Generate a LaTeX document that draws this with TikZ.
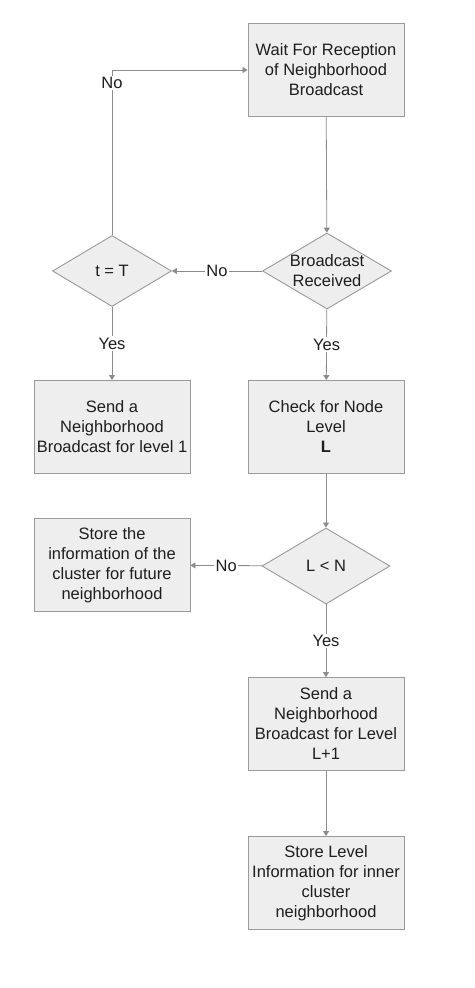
\documentclass[tikz,border=0pt]{standalone}
\usepackage{fontspec}
\setmainfont{Liberation Sans}
\usepackage{tikz}
\usetikzlibrary{arrows.meta,shapes}
\newcommand{\boxw}{156pt}
\newcommand{\boxh}{93pt}
\definecolor{boxfill}{HTML}{EEEEEE}
\definecolor{boxline}{HTML}{9A9A9A}
\definecolor{flowline}{HTML}{8C8C8C}
\definecolor{txt}{HTML}{1E1E1E}

\begin{document}
\begin{tikzpicture}[x=1pt,y=-1pt,
    every node/.style={font=\fontsize{16.5}{20}\selectfont, text=txt},
    stepbox/.style={draw=boxline, fill=boxfill, line width=0.9pt, minimum width=\boxw, minimum height=\boxh, align=center, inner sep=0pt},
    decision/.style={diamond, draw=boxline, fill=boxfill, line width=0.9pt, inner sep=0pt},
    dtext/.style={align=center, inner sep=0pt},
    flow/.style={draw=flowline, line width=0.8pt, -{Triangle[length=5pt,width=6pt]}},
    lbl/.style={fill=white, inner sep=1.5pt}]
            \useasboundingbox[fill=white] (0,0) rectangle (474,988);
            \node[stepbox] (wait) at (326,70) {Wait For Reception\\of Neighborhood\\Broadcast};
            \node[decision, minimum width=129pt, minimum height=76pt, label={[dtext]center:Broadcast\\Received}] (rcv) at (327,271) {};
            \node[decision, minimum width=119pt, minimum height=71pt, label={[dtext]center:t = T}] (tt) at (112,271) {};
            \node[stepbox] (send1) at (112,427) {Send a\\Neighborhood\\Broadcast for level 1};
            \node[stepbox] (check) at (326,427) {Check for Node\\Level\\\textbf{L}};
            \node[decision, minimum width=128pt, minimum height=76pt, label={[dtext]center:L < N}] (lvl) at (326,566) {};
            \node[stepbox] (store) at (112,565) {Store the\\information of the\\cluster for future\\neighborhood};
            \node[stepbox] (sendl) at (326,724) {Send a\\Neighborhood\\Broadcast for Level\\L+1};
            \node[stepbox] (inner) at (326,883) {Store Level\\Information for inner\\cluster\\neighborhood};

            \draw[flow] (wait) -- (rcv);
            \draw[flow] (rcv) -- node[lbl] {No} (tt);
            \draw[flow] (tt.north) |- node[lbl, pos=0.46] {No} (wait.west);
            \draw[flow] (tt) -- node[lbl] {Yes} (send1);
            \draw[flow] (rcv) -- node[lbl] {Yes} (check);
            \draw[flow] (check) -- (lvl);
            \draw[flow] (lvl) -- node[lbl] {No} (store);
            \draw[flow] (lvl) -- node[lbl] {Yes} (sendl);
            \draw[flow] (sendl) -- (inner);
        \end{tikzpicture}
\end{document}
